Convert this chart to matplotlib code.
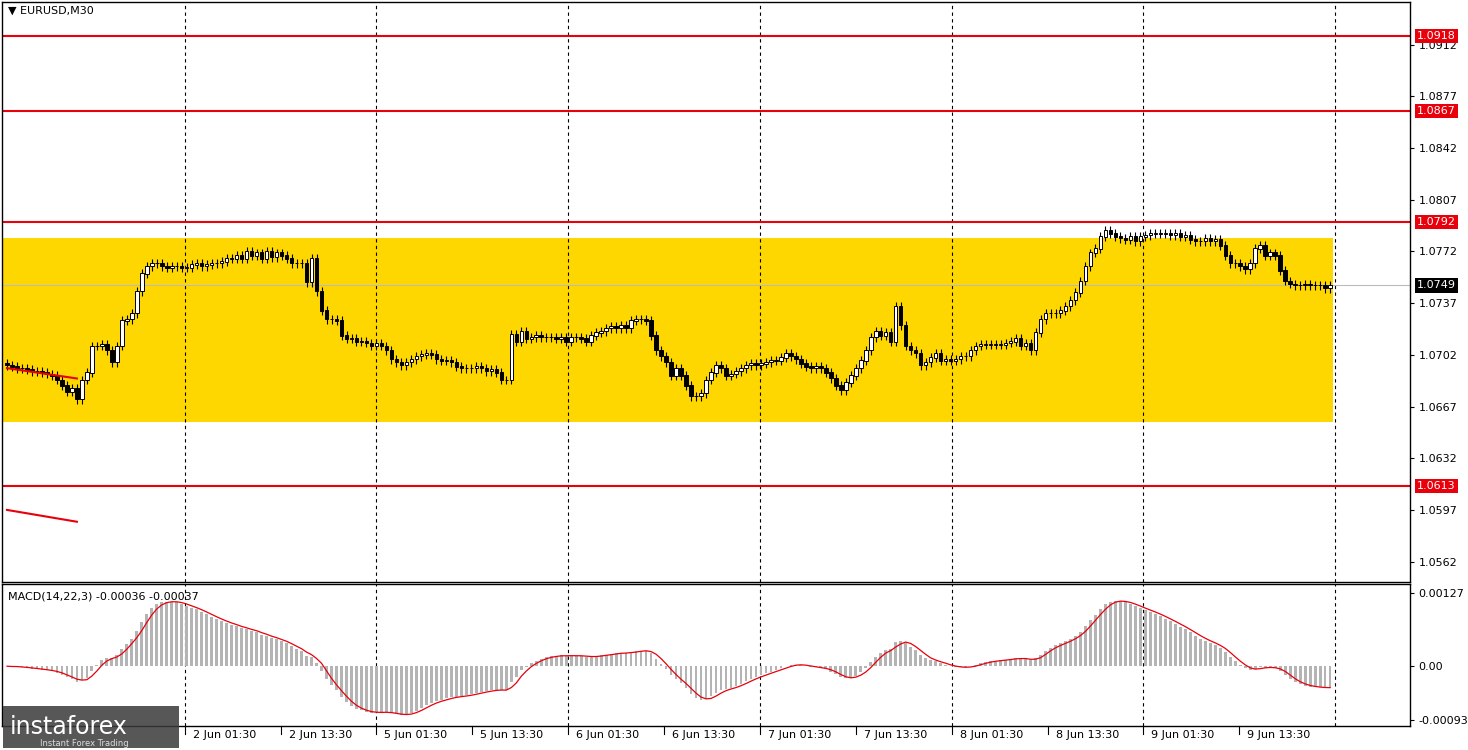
import matplotlib
matplotlib.use("Agg")
import matplotlib.pyplot as plt
import numpy as np

closes = [1.0695,1.0694,1.0693,1.0693,1.0692,1.0691,1.0691,1.0690,1.0689,1.0688,1.0685,1.0681,1.0677,1.0679,1.0672,1.0685,1.0690,1.0708,1.0708,1.0709,
1.0705,1.0697,1.0708,1.0725,1.0726,1.0730,1.0745,1.0757,1.0762,1.0764,1.0764,1.0762,1.0761,1.0762,1.0762,1.0761,1.0761,1.0763,1.0764,1.0762,
1.0763,1.0764,1.0764,1.0765,1.0767,1.0767,1.0769,1.0767,1.0772,1.0769,1.0771,1.0767,1.0772,1.0768,1.0771,1.0769,1.0767,1.0764,1.0764,1.0764,
1.0751,1.0767,1.0745,1.0732,1.0726,1.0726,1.0725,1.0715,1.0713,1.0713,1.0711,1.0711,1.0710,1.0708,1.0710,1.0708,1.0705,1.0699,1.0697,1.0695,
1.0697,1.0699,1.0701,1.0702,1.0703,1.0702,1.0699,1.0698,1.0698,1.0697,1.0694,1.0693,1.0693,1.0693,1.0694,1.0693,1.0691,1.0692,1.0690,1.0685,
1.0685,1.0716,1.0711,1.0718,1.0713,1.0714,1.0715,1.0714,1.0714,1.0714,1.0713,1.0714,1.0711,1.0714,1.0714,1.0713,1.0711,1.0715,1.0717,1.0718,
1.0720,1.0721,1.0720,1.0722,1.0720,1.0725,1.0726,1.0726,1.0725,1.0715,1.0705,1.0701,1.0697,1.0688,1.0693,1.0688,1.0681,1.0674,1.0674,1.0676,
1.0685,1.0690,1.0695,1.0693,1.0688,1.0689,1.0691,1.0693,1.0695,1.0696,1.0695,1.0696,1.0697,1.0698,1.0698,1.0700,1.0703,1.0701,1.0699,1.0696,
1.0694,1.0693,1.0694,1.0693,1.0690,1.0686,1.0681,1.0678,1.0683,1.0688,1.0693,1.0698,1.0705,1.0714,1.0718,1.0715,1.0717,1.0711,1.0735,1.0722,
1.0708,1.0705,1.0703,1.0695,1.0697,1.0700,1.0703,1.0698,1.0699,1.0698,1.0699,1.0701,1.0701,1.0705,1.0708,1.0709,1.0709,1.0709,1.0709,1.0709,
1.0710,1.0711,1.0713,1.0708,1.0710,1.0705,1.0717,1.0726,1.0730,1.0730,1.0730,1.0732,1.0735,1.0739,1.0744,1.0752,1.0762,1.0771,1.0774,1.0782,
1.0786,1.0784,1.0782,1.0781,1.0780,1.0782,1.0779,1.0782,1.0783,1.0784,1.0784,1.0784,1.0784,1.0783,1.0784,1.0782,1.0783,1.0780,1.0779,1.0779,
1.0781,1.0779,1.0780,1.0776,1.0769,1.0764,1.0764,1.0762,1.0760,1.0764,1.0774,1.0776,1.0769,1.0771,1.0769,1.0759,1.0752,1.0750,1.0749,1.0749,
1.0750,1.0749,1.0749,1.0749,1.0747,1.0749]
first_open = 1.0696
levels_red = [1.0918, 1.0867, 1.0792, 1.0613]
current_price = 1.0749
zone = (1.06562, 1.07810)
price_ticks = [1.0912,1.0877,1.0842,1.0807,1.0772,1.0737,1.0702,1.0667,1.0632,1.0597,1.0562]
time_labels = ['2 Jun 01:30','2 Jun 13:30','5 Jun 01:30','5 Jun 13:30','6 Jun 01:30','6 Jun 13:30',
               '7 Jun 01:30','7 Jun 13:30','8 Jun 01:30','8 Jun 13:30','9 Jun 01:30','9 Jun 13:30']
macd_ticks = [0.00127, 0.0, -0.00093]

c = np.array(closes)
n = len(c)
o = np.concatenate([[first_open], c[:-1]])
hi = np.maximum(o, c) + 0.0003
lo = np.minimum(o, c) - 0.0003
x = np.arange(n)

def ema(v, p):
    a = 2 / (p + 1); out = np.empty_like(v); out[0] = v[0]
    for i in range(1, len(v)):
        out[i] = a * v[i] + (1 - a) * out[i - 1]
    return out
macd = ema(c, 14) - ema(c, 22)
sig = np.convolve(macd, np.ones(3) / 3, mode='full')[:n]
sig[:2] = macd[:2]

W, H = 1468, 750
fig = plt.figure(figsize=(W/100, H/100), dpi=100)
ax = fig.add_axes([2/W, 1-582/H, 1408/W, 580/H])
ax2 = fig.add_axes([2/W, 1-726/H, 1408/W, 142/H])
XL = (-1, 281)
px2i = lambda p: p/5 - 1

for a in (ax, ax2):
    a.set_xlim(*XL)
    for s in a.spines.values():
        s.set_color('black'); s.set_linewidth(1)
    a.yaxis.tick_right()
    a.tick_params(axis='y', labelsize=8, length=3, pad=3)
    a.set_xticks([])
    for k in range(7):
        a.axvline(px2i(183 + 192*k), color='black', ls=(0, (3, 3)), lw=0.8, zorder=1)

ax.set_ylim(1.05482, 1.09409)
ax.axhspan(zone[0], zone[1], xmin=0, xmax=(px2i(1333)-XL[0])/(XL[1]-XL[0]), color='#FFD700', zorder=0, lw=0)
for lv in levels_red:
    ax.axhline(lv, color='#E8000B', lw=1.5, zorder=2)
ax.axhline(current_price, color='#BBBBBB', lw=0.8, zorder=2)
ax.set_yticks(price_ticks)
ax.set_yticklabels([f'{t:.4f}' for t in price_ticks])
for lv in levels_red:
    ax.text(1.005, lv, f'{lv:.4f}', transform=ax.get_yaxis_transform(), fontsize=8, color='white',
            va='center', ha='left', bbox=dict(facecolor='#E8000B', edgecolor='none', pad=1.5), clip_on=False)
ax.text(1.005, current_price, f'{current_price:.4f}', transform=ax.get_yaxis_transform(), fontsize=8, color='white',
        va='center', ha='left', bbox=dict(facecolor='black', edgecolor='none', pad=1.5), clip_on=False)

ax.vlines(x, lo, hi, color='black', lw=0.8, zorder=3)
up = c >= o
ax.bar(x[up], (c - o)[up] + 0.00003, bottom=o[up], width=0.7, color='white', edgecolor='black', lw=0.7, zorder=4)
ax.bar(x[~up], (o - c)[~up] + 0.00003, bottom=c[~up], width=0.7, color='black', edgecolor='black', lw=0.7, zorder=4)

ax.plot([0, 14], [1.0693, 1.0686], color='#E8000B', lw=1.5, zorder=5)
ax.plot([0, 14], [1.0597, 1.0589], color='#E8000B', lw=1.5, zorder=5)
ax.text(0.004, 0.993, '▼ EURUSD,M30', transform=ax.transAxes, fontsize=8, va='top', ha='left')

ax2.set_ylim(-0.00104, 0.00143)
ax2.bar(x, macd, width=0.55, color='#B4B4B4', zorder=2)
ax2.plot(x, sig, color='#E8000B', lw=0.9, zorder=3)
ax2.set_yticks(macd_ticks)
ax2.set_yticklabels(['0.00127', '0.00', '-0.00093'])
ax2.text(0.004, 0.95, 'MACD(14,22,3) -0.00036 -0.00037', transform=ax2.transAxes, fontsize=8, va='top', ha='left')

for k, lab in enumerate(time_labels):
    xi = px2i(183 + 96*k)
    ax2.plot([xi, xi], [-0.00104, -0.00118], color='black', lw=0.8, clip_on=False)
    ax2.text(xi + 1.6, -0.00111, lab, fontsize=8, va='top', ha='left', clip_on=False)

fig.patches.append(plt.Rectangle((3/W, 1-748/H), 176/W, 42/H, transform=fig.transFigure,
                                 facecolor='#3A3A3A', edgecolor='none', alpha=0.85, zorder=10))
fig.text(10/W, 1-734/H, 'instaforex', fontsize=17, color='white', va='baseline', ha='left', zorder=11)
fig.text(40/W, 1-746/H, 'Instant Forex Trading', fontsize=6, color='#DDDDDD', va='baseline', ha='left', zorder=11)
fig.savefig('out.png', dpi=100, facecolor='white')
